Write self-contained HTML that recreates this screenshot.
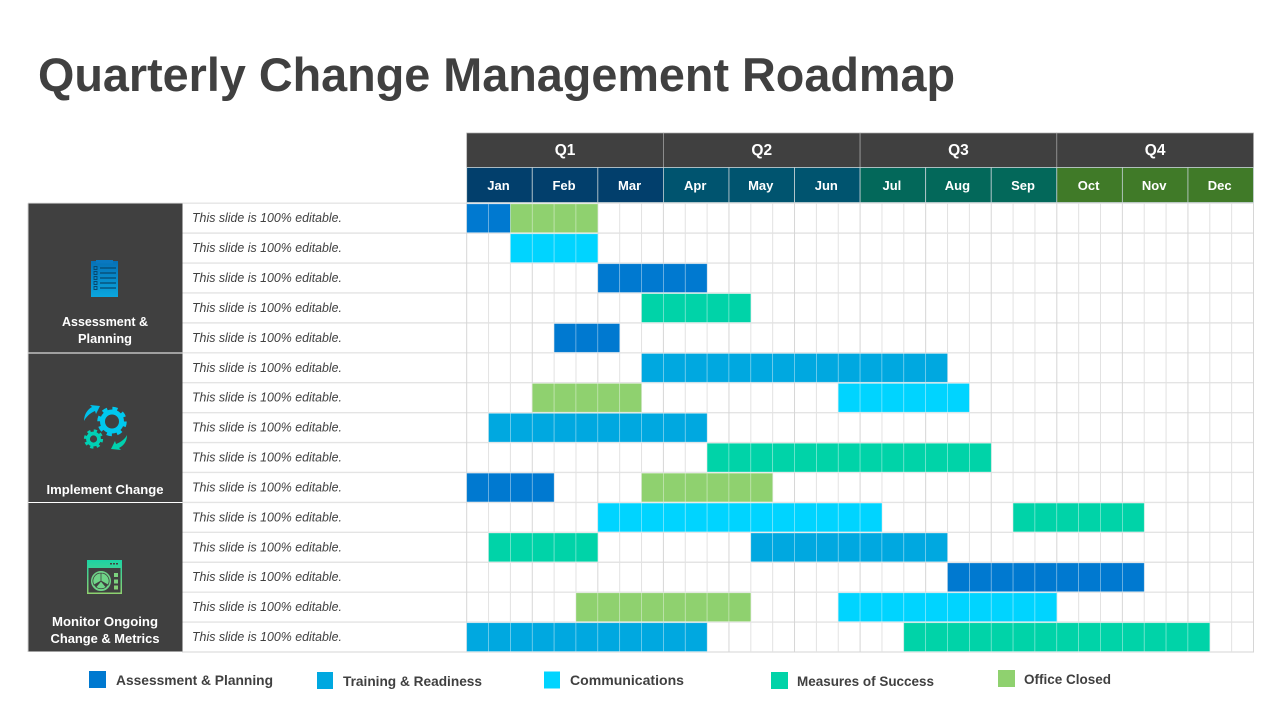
<!DOCTYPE html>
<html lang="en">
<head>
<meta charset="utf-8">
<title>Quarterly Change Management Roadmap</title>
<style>
html,body{margin:0;padding:0;background:#fff;width:1280px;height:720px;overflow:hidden}
svg{display:block;font-family:"Liberation Sans",Arial,sans-serif}
</style>
</head>
<body>
<svg id="roadmap" xmlns="http://www.w3.org/2000/svg" width="1280" height="720" viewBox="0 0 1280 720">
  <defs>
    <linearGradient id="clipGrad" x1="0" y1="0" x2="0" y2="1"><stop offset="0" stop-color="#0670b6"/><stop offset="1" stop-color="#0aa6de"/></linearGradient>
    <linearGradient id="dashGrad" x1="0" y1="0" x2="0" y2="1"><stop offset="0" stop-color="#1bd3a4"/><stop offset="1" stop-color="#8fd16f"/></linearGradient>
  </defs>
  <rect x="0" y="0" width="1280" height="720" fill="#fff"/>
  <text x="38" y="91" font-size="47" font-weight="700" fill="#404040" textLength="917" lengthAdjust="spacingAndGlyphs">Quarterly Change Management Roadmap</text>

  <g id="grid"></g>
  <g id="bars"></g>
  <g id="header"></g>
  <g id="rowLabels"></g>

  <g>
    <rect x="28.5" y="203.5" width="154" height="149" fill="#404040"/>
    <g>
      <rect x="91" y="261" width="27" height="36" fill="url(#clipGrad)"/>
      <rect x="96" y="260" width="17" height="3.5" fill="#0a78c0"/>
      <g fill="none" stroke="#07486f" stroke-width="1.2">
        <path d="M100 268H116M100 273H116M100 278H116M100 283H116M100 288H116"/>
        <path d="M94 266.500h3v3h-3zM94 271.500h3v3h-3zM94 276.500h3v3h-3zM94 281.500h3v3h-3zM94 286.500h3v3h-3z" stroke-width="0.9"/>
      </g>
    </g>
    <text x="105" y="326" font-size="13" font-weight="700" fill="#fff" text-anchor="middle" textLength="86" lengthAdjust="spacingAndGlyphs">Assessment &amp;</text>
    <text x="105" y="343" font-size="13" font-weight="700" fill="#fff" text-anchor="middle" textLength="54" lengthAdjust="spacingAndGlyphs">Planning</text>
  </g>

  <g>
    <rect x="28.5" y="353.5" width="154" height="148.500" fill="#404040"/>
    <g>
      <circle cx="112" cy="421.500" r="9.500" fill="none" stroke="#00c8ee" stroke-width="5"/>
      <circle cx="112" cy="421.500" r="13" fill="none" stroke="#00c8ee" stroke-width="3.500" stroke-dasharray="5.100 5.110"/>
      <circle cx="93.500" cy="439" r="5.500" fill="none" stroke="#00d0b4" stroke-width="3.800"/>
      <circle cx="93.500" cy="439" r="8.300" fill="none" stroke="#00d0b4" stroke-width="2.600" stroke-dasharray="3.250 3.270"/>
      <path d="M84 421C84 414 88 409 92 407L90 405L100 406L96 414L95 411C90 413 86 417 84 421Z" fill="#00c0ea"/>
      <path d="M127 435C127 442 123 446 119 448L121 450L111 449L115 441L116 444C121 442 125 439 127 435Z" fill="#00d0ae"/>
    </g>
    <text x="105" y="494" font-size="13" font-weight="700" fill="#fff" text-anchor="middle" textLength="117" lengthAdjust="spacingAndGlyphs">Implement Change</text>
  </g>

  <g>
    <rect x="28.5" y="503" width="154" height="148.500" fill="#404040"/>
    <g>
      <rect x="87" y="560" width="35" height="34" fill="url(#dashGrad)"/>
      <rect x="88.500" y="568" width="32" height="24.500" fill="#404040"/>
      <circle cx="101" cy="581" r="9" fill="none" stroke="#6fd488" stroke-width="2"/>
      <path d="M101 581V573A8 8 0 0 0 94 585ZM101 581V573A8 8 0 0 1 108 585ZM101 581L96 587A8 8 0 0 0 106 587Z" fill="#6fd488" stroke="#404040" stroke-width="0.8"/>
      <rect x="114" y="573" width="4" height="4" fill="#7cd27e"/>
      <rect x="114" y="579.500" width="4" height="4" fill="#7cd27e"/>
      <rect x="114" y="585.500" width="4" height="4" fill="#84d176"/>
      <rect x="110" y="563" width="2" height="1.500" fill="#404040"/>
      <rect x="113" y="563" width="2" height="1.500" fill="#404040"/>
      <rect x="116" y="563" width="2" height="1.500" fill="#404040"/>
    </g>
    <text x="105" y="626" font-size="13" font-weight="700" fill="#fff" text-anchor="middle" textLength="106" lengthAdjust="spacingAndGlyphs">Monitor Ongoing</text>
    <text x="105" y="643" font-size="13" font-weight="700" fill="#fff" text-anchor="middle" textLength="109" lengthAdjust="spacingAndGlyphs">Change &amp; Metrics</text>
  </g>

  <g font-size="14" font-weight="700" fill="#404040">
    <g>
      <rect x="89" y="671" width="17" height="17" fill="#0079d0"/>
      <text x="116" y="685" textLength="157" lengthAdjust="spacingAndGlyphs">Assessment &amp; Planning</text>
    </g>
    <g>
      <rect x="317" y="672" width="16" height="17" fill="#00a8e0"/>
      <text x="343" y="686" textLength="139" lengthAdjust="spacingAndGlyphs">Training &amp; Readiness</text>
    </g>
    <g>
      <rect x="544" y="671.500" width="16" height="17" fill="#00d4ff"/>
      <text x="570" y="685" textLength="114" lengthAdjust="spacingAndGlyphs">Communications</text>
    </g>
    <g>
      <rect x="771" y="672" width="17" height="17" fill="#00d3a8"/>
      <text x="797" y="686" textLength="137" lengthAdjust="spacingAndGlyphs">Measures of Success</text>
    </g>
    <g>
      <rect x="998" y="670" width="17" height="17" fill="#8fd16f"/>
      <text x="1024" y="684" textLength="87" lengthAdjust="spacingAndGlyphs">Office Closed</text>
    </g>
  </g>
</svg>

<script>
/* ---- chart data ---- */
var quarters = ['Q1', 'Q2', 'Q3', 'Q4'];
var months = ['Jan', 'Feb', 'Mar', 'Apr', 'May', 'Jun', 'Jul', 'Aug', 'Sep', 'Oct', 'Nov', 'Dec'];
var taskLabels = [
  'This slide is 100% editable.', 'This slide is 100% editable.', 'This slide is 100% editable.',
  'This slide is 100% editable.', 'This slide is 100% editable.', 'This slide is 100% editable.',
  'This slide is 100% editable.', 'This slide is 100% editable.', 'This slide is 100% editable.',
  'This slide is 100% editable.', 'This slide is 100% editable.', 'This slide is 100% editable.',
  'This slide is 100% editable.', 'This slide is 100% editable.', 'This slide is 100% editable.'
];
/* one entry per bar; time is counted in periods (three per month) */
var barTask   = [0, 0, 1, 2, 3, 4, 5, 6, 6, 7, 8, 9, 9, 10, 10, 11, 11, 12, 13, 13, 14, 14];
var barStart  = [0, 2, 2, 6, 8, 4, 8, 3, 17, 1, 11, 0, 8, 6, 25, 1, 13, 22, 5, 17, 0, 20];
var barLength = [2, 4, 4, 5, 5, 3, 14, 5, 6, 10, 13, 4, 6, 13, 6, 5, 9, 9, 8, 10, 11, 14];
var barSeries = ['assessment', 'closed', 'comms', 'assessment', 'measures', 'assessment', 'training', 'closed', 'comms', 'training', 'measures', 'assessment', 'closed', 'comms', 'measures', 'measures', 'training', 'assessment', 'closed', 'comms', 'training', 'measures'];
var seriesNames = ['assessment', 'training', 'comms', 'measures', 'closed'];

/* ---- presentation ---- */
var seriesColors = ['#0079d0', '#00a8e0', '#00d4ff', '#00d3a8', '#8fd16f'];
var monthColors = ['#023f6c', '#00546f', '#03685a', '#407a28'];
var PERIODS_PER_MONTH = 3;
var MONTHS_PER_QUARTER = 3;
var plotLeft = 466.7, plotRight = 1253.5, plotTop = 203.2, plotBottom = 652;
var NS = 'http://www.w3.org/2000/svg';

function periodCount() { return months.length * PERIODS_PER_MONTH; }
function xAt(p) { return plotLeft + p * (plotRight - plotLeft) / periodCount(); }
function yAt(r) { return plotTop + r * (plotBottom - plotTop) / taskLabels.length; }
function make(tag, attrs, parent) {
  var el = document.createElementNS(NS, tag);
  for (var k in attrs) el.setAttribute(k, attrs[k]);
  parent.appendChild(el);
  return el;
}

var gridG = document.getElementById('grid');
var barsG = document.getElementById('bars');
var headerG = document.getElementById('header');
var labelsG = document.getElementById('rowLabels');

/* task rows */
taskLabels.forEach(function (label, r) {
  var line = make('line', { x1: 182, x2: plotRight + 0.5, y1: yAt(r + 1), y2: yAt(r + 1), stroke: '#e4e4e4', 'stroke-width': 1.4 }, gridG);
  
  
  var t = make('text', { x: 192, y: yAt(r) + 19, 'font-size': 12.5, 'font-style': 'italic', fill: '#404040', textLength: 150, lengthAdjust: 'spacingAndGlyphs' }, labelsG);
  t.textContent = label;
  
  
});
var topLine = make('line', { x1: 28, x2: plotRight + 0.5, y1: plotTop, y2: plotTop, stroke: '#e4e4e4', 'stroke-width': 1.4 }, gridG);


var leftEdge = make('line', { x1: 28, x2: 28, y1: plotTop, y2: plotBottom, stroke: '#d4d4d4', 'stroke-width': 1 }, gridG);



/* period columns */
for (var p = 0; p <= periodCount(); p++) {
  var isMonth = p % PERIODS_PER_MONTH === 0;
  var v = make('line', { x1: xAt(p), x2: xAt(p), y1: plotTop, y2: plotBottom, stroke: isMonth ? '#d6d6d6' : '#e2e2e2', 'stroke-width': 1 }, gridG);
  
  
}

/* bars: one block per period, edged with a pale tint of the fill */
barTask.forEach(function (task, b) {
  var color = seriesColors[seriesNames.indexOf(barSeries[b])];
  for (var i = 0; i < barLength[b]; i++) {
    var col = barStart[b] + i;
    var cell = make('rect', {
      x: xAt(col),
      y: yAt(task) + 0.7,
      width: xAt(col + 1) - xAt(col),
      height: yAt(task + 1) - yAt(task) - 1.2,
      fill: color,
      stroke: '#ffffff',
      'stroke-opacity': 0.4,
      'stroke-width': 0.7
    }, barsG);
    
    
  }
});

/* header */
var HEADER_TOP = 133, HEADER_MID = 167.5, HEADER_BOTTOM = 202.5;
quarters.forEach(function (q, i) {
  var x0 = xAt(i * MONTHS_PER_QUARTER * PERIODS_PER_MONTH);
  var x1 = xAt((i + 1) * MONTHS_PER_QUARTER * PERIODS_PER_MONTH);
  var cell = make('rect', { x: x0, y: HEADER_TOP, width: x1 - x0, height: HEADER_MID - HEADER_TOP, fill: '#404040', stroke: '#a8a8a8', 'stroke-width': 0.7 }, headerG);
  
  
  var t = make('text', { x: (x0 + x1) / 2, y: 155, 'font-size': 15.5, 'font-weight': 700, fill: '#fff', 'text-anchor': 'middle' }, headerG);
  t.textContent = q;
  
  
});
months.forEach(function (m, i) {
  var x0 = xAt(i * PERIODS_PER_MONTH);
  var x1 = xAt((i + 1) * PERIODS_PER_MONTH);
  var color = monthColors[Math.floor(i / MONTHS_PER_QUARTER)];
  var cell = make('rect', { x: x0, y: HEADER_MID, width: x1 - x0, height: HEADER_BOTTOM - HEADER_MID, fill: color, stroke: '#c4d0d4', 'stroke-width': 0.8 }, headerG);
  
  
  var t = make('text', { x: (x0 + x1) / 2 - 1, y: 190, 'font-size': 13, 'font-weight': 700, fill: '#fff', 'text-anchor': 'middle' }, headerG);
  t.textContent = m;
  
  
});
</script>
</body>
</html>
